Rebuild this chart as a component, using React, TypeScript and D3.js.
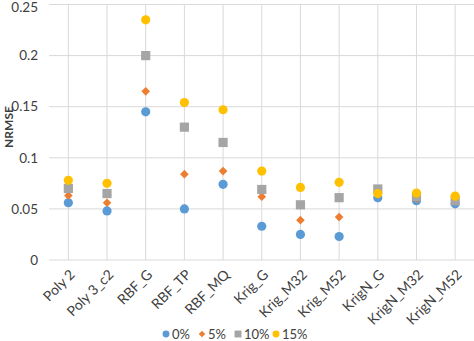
import React from "react";
import * as d3 from "d3";

const categories = ["Poly 2", "Poly 3_c2", "RBF_G", "RBF_TP", "RBF_MQ", "Krig_G", "Krig_M32", "Krig_M52", "KrigN_G", "KrigN_M32", "KrigN_M52"];
const s0 = [0.056, 0.048, 0.145, 0.050, 0.074, 0.033, 0.025, 0.023, 0.061, 0.058, 0.055];
const s5 = [0.063, 0.056, 0.165, 0.084, 0.087, 0.062, 0.039, 0.042, 0.064, 0.060, 0.057];
const s10 = [0.070, 0.065, 0.200, 0.130, 0.115, 0.069, 0.054, 0.061, 0.0695, 0.062, 0.058];
const s15 = [0.078, 0.075, 0.235, 0.154, 0.147, 0.087, 0.071, 0.076, 0.065, 0.0655, 0.0625];
const seriesNames = ["0%", "5%", "10%", "15%"];
const yTicks = [0, 0.05, 0.1, 0.15, 0.2, 0.25];

const W = 474, H = 341;
const left = 49, right = 474.5, top = 4.5, bottom = 260;
const font = "Lato, 'Open Sans', sans-serif";
const textColor = "#404040";
const colors = ["#5B9BD5", "#ED7D31", "#A5A5A5", "#FFC000"];
const shapes = ["circle", "diamond", "square", "circle"];

function Marker({ shape, x, y, color, size = 1 }: any) {
  if (shape === "circle") return <circle cx={x} cy={y} r={4.6 * size} fill={color} />;
  if (shape === "square") return <rect x={x - 4.6 * size} y={y - 4.6 * size} width={9.2 * size} height={9.2 * size} fill={color} />;
  const r = 4.3 * size;
  return <path d={`M${x},${y - r}L${x + r},${y}L${x},${y + r}L${x - r},${y}Z`} fill={color} />;
}

export default function App() {
  const x = d3.scaleBand().domain(categories).range([left, right]);
  const y = d3.scaleLinear().domain([0, 0.25]).range([bottom, top]);
  const cx = (c: string) => (x(c) as number) + x.bandwidth() / 2;
  const series = [s0, s5, s10, s15];
  const fmt = (v: number) => (v === 0 ? "0" : String(+v.toFixed(2)));

  const legendItems = [
    { x: 166, label: "0%" },
    { x: 202, label: "5%" },
    { x: 238, label: "10%" },
    { x: 276, label: "15%" },
  ];
  const ly = 334;

  return (
    <svg width={W} height={H} style={{ position: "absolute", left: 0, top: 0, background: "#fff" }} fontFamily={font}>
      {yTicks.map((t) => (
        <line key={"h" + t} x1={left} x2={right} y1={y(t)} y2={y(t)} stroke="#D9D9D9" strokeWidth={1} />
      ))}
      {categories.map((c) => (
        <line key={"v" + c} x1={cx(c)} x2={cx(c)} y1={top} y2={bottom} stroke="#D9D9D9" strokeWidth={1} />
      ))}
      {yTicks.map((t) => (
        <text key={"yt" + t} x={38} y={y(t) + (t === 0.25 ? 2.5 : 0)} dy="0.35em" textAnchor="end" fontSize={13.5} fill={textColor}>
          {fmt(t)}
        </text>
      ))}
      <text transform={`translate(13,127) rotate(-90)`} textAnchor="middle" fontSize={12} fontWeight="bold" fill={textColor}>
        NRMSE
      </text>
      {categories.map((c) => (
        <text key={"xt" + c} transform={`translate(${cx(c) + 4},${bottom + 12}) rotate(-45)`} textAnchor="end" dy="0.35em" fontSize={14} fill={textColor}>
          {c}
        </text>
      ))}
      {series.map((s, si) =>
        s.map((v, i) => (
          <Marker key={si + "-" + i} shape={shapes[si]} x={cx(categories[i])} y={y(v)} color={colors[si]} />
        ))
      )}
      {legendItems.map((it, i) => (
        <g key={"lg" + i}>
          <Marker shape={shapes[i]} x={it.x} y={ly} color={colors[i]} size={0.75} />
          <text x={it.x + 6} y={ly} dy="0.35em" fontSize={13} fill={textColor}>
            {seriesNames[i]}
          </text>
        </g>
      ))}
    </svg>
  );
}
